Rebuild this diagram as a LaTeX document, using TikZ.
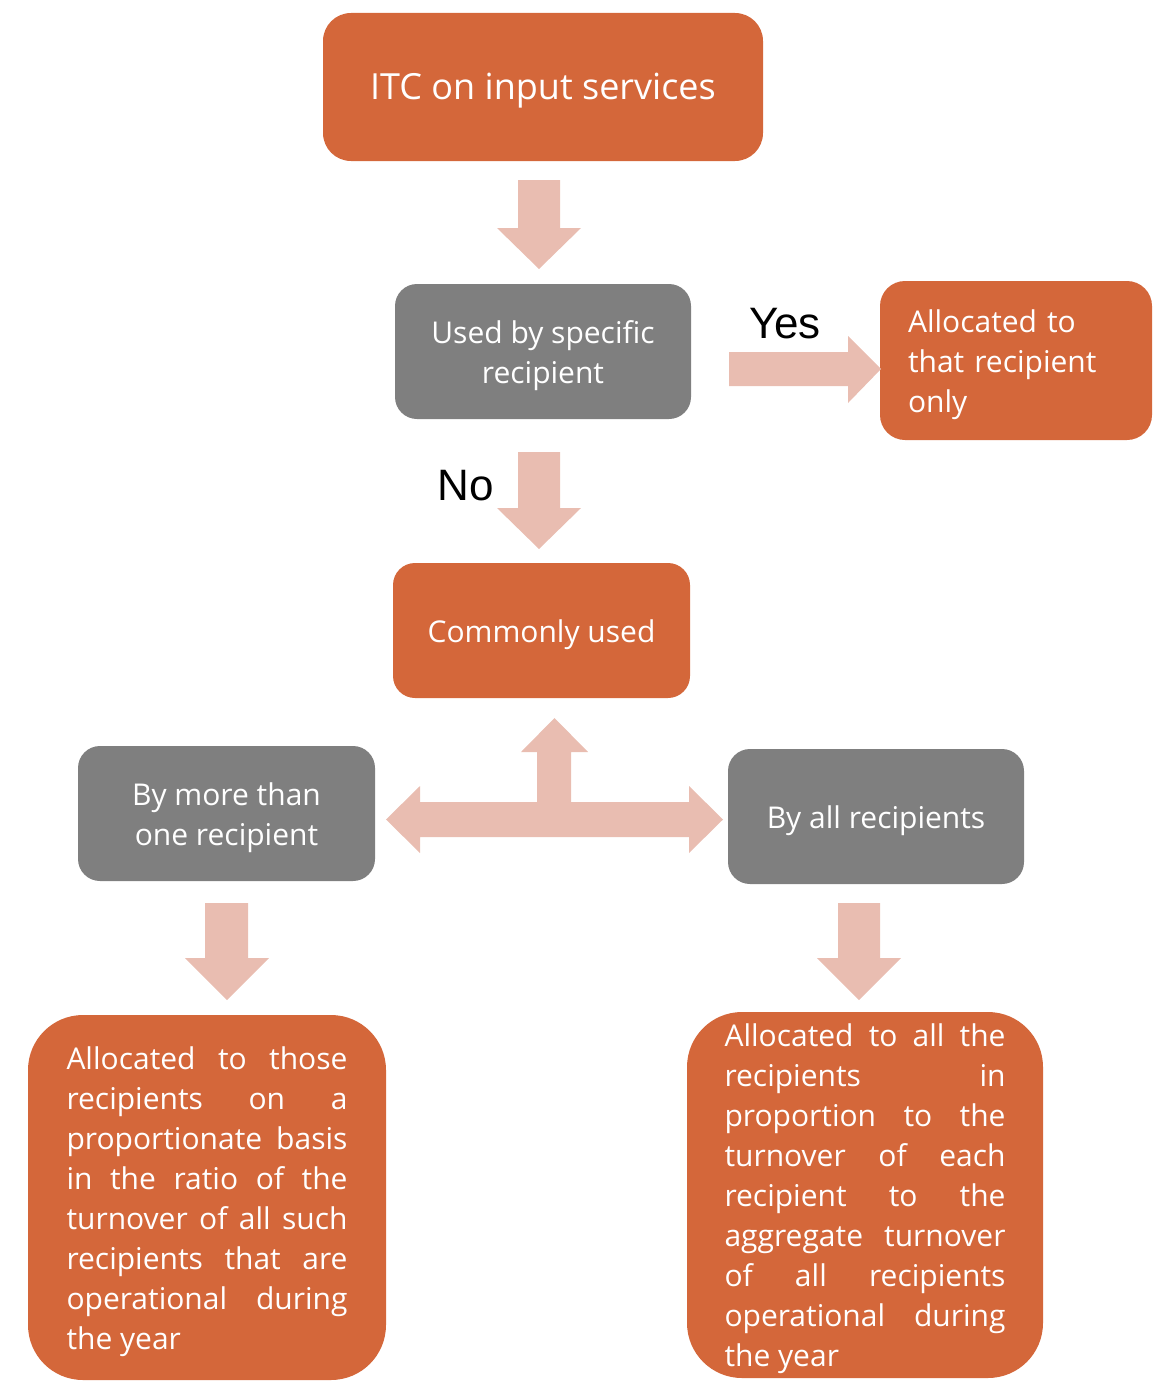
\documentclass[tikz,border=0pt]{standalone}
\usepackage{fontspec}
\setmainfont{Open Sans}
\newfontfamily\arialf{Liberation Sans}
\definecolor{orangebox}{HTML}{D4673A}
\definecolor{graybox}{HTML}{7F7F7F}
\definecolor{arrowc}{HTML}{E9BDB1}
\newcommand{\jl}[1]{\makebox[281pt][s]{#1}}
\begin{document}
\begin{tikzpicture}[x=1pt,y=-1pt,
  box/.style={rounded corners=22pt, inner sep=0pt},
  obox/.style={box, fill=orangebox},
  gbox/.style={box, fill=graybox},
  txt/.style={text=white, align=center, inner sep=0pt,
    font=\fontsize{30}{40}\selectfont},
  blk/.style={fill=arrowc},
  lbl/.style={font=\arialf\fontsize{44}{50}\selectfont, text=black, inner sep=0pt}]
\useasboundingbox (0,0) rectangle (1168,1394);

% boxes
\node[obox, rounded corners=28pt, minimum width=440pt, minimum height=148pt] (top) at (543,87) {};
\node[gbox, minimum width=296pt, minimum height=135pt] (used) at (543,351.5) {};
\node[obox, rounded corners=25pt, minimum width=272pt, minimum height=159pt] (alloc) at (1016,360.5) {};
\node[obox, minimum width=297pt, minimum height=135pt] (common) at (541.5,630.5) {};
\node[gbox, minimum width=297pt, minimum height=135pt] (more) at (226.5,813.5) {};
\node[gbox, minimum width=296pt, minimum height=135pt] (all) at (876,816.5) {};
\node[obox, rounded corners=55pt, minimum width=358pt, minimum height=365pt] (bl) at (207,1197.5) {};
\node[obox, rounded corners=55pt, minimum width=356pt, minimum height=366pt] (br) at (865,1195) {};

% texts
\node[txt, font=\fontsize{36}{44}\selectfont] (topT) at ([yshift=-4pt]top.center) {ITC on input services};
\node[txt] (usedT) at ([yshift=-4pt]used.center) {Used by specific\\recipient};
\node[txt, text width=216pt, align=left] (allocT) at ([yshift=-4pt]alloc.center)
  {Allocated to\\that recipient\\only};
\node[txt] (commonT) at ([yshift=-4pt]common.center) {Commonly used};
\node[txt] (moreT) at ([yshift=-4pt]more.center) {By more than\\one recipient};
\node[txt] (allT) at ([yshift=-4pt]all.center) {By all recipients};
\node[txt, align=left] (blT) at ([yshift=-4pt]bl.center)
  {\jl{Allocated to those}\\\jl{recipients on a}\\\jl{proportionate basis}\\
   \jl{in the ratio of the}\\\jl{turnover of all such}\\\jl{recipients that are}\\
   \jl{operational during}\\\makebox[281pt][l]{the year}};
\node[txt, align=left] (brT) at ([yshift=-4pt]br.center)
  {\jl{Allocated to all the}\\\jl{recipients in}\\\jl{proportion to the}\\
   \jl{turnover of each}\\\jl{recipient to the}\\\jl{aggregate turnover}\\
   \jl{of all recipients}\\\jl{operational during}\\\makebox[281pt][l]{the year}};

\node[lbl] (yes) at (785,324) {Yes};
\node[lbl] (no) at (466,486) {No};

% block arrows
\fill[blk] (518,180)--(560,180)--(560,228)--(581,228)--(539,269)--(497,228)--(518,228)--cycle;
\fill[blk] (518,452)--(560,452)--(560,508)--(581,508)--(539,549)--(497,508)--(518,508)--cycle;
\fill[blk] (729,352)--(848,352)--(848,336)--(881,369)--(848,403)--(848,386)--(729,386)--cycle;
\fill[blk] (420,802)--(537,802)--(537,752)--(521,752)--(554.5,718)--(588,752)--(571,752)
  --(571,802)--(689,802)--(689,786)--(723,819.5)--(689,853)--(689,837)--(420,837)
  --(420,853)--(386,819.5)--(420,786)--cycle;
\fill[blk] (205,903)--(248,903)--(248,958)--(269,958)--(227,1000)--(185,958)--(205,958)--cycle;
\fill[blk] (838,903)--(880,903)--(880,958)--(901,958)--(859,1000)--(817,958)--(838,958)--cycle;
\end{tikzpicture}
\end{document}
